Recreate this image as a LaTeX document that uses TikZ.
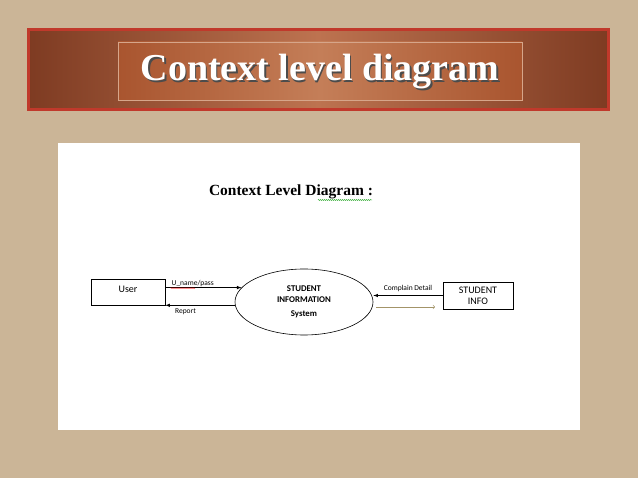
\documentclass[tikz,border=0pt]{standalone}
\usepackage{fontspec}
\setmainfont{Liberation Serif}
\newfontfamily\lblfont{Carlito}
\usepackage{xcolor}
\usetikzlibrary{arrows,shapes.geometric,decorations.pathmorphing}
\definecolor{paper}{HTML}{CBB597}
\definecolor{bannerred}{HTML}{C0392B}
\definecolor{bannerdark}{HTML}{7E3B22}
\definecolor{bannerlight}{HTML}{BD7350}
\definecolor{innerdark}{HTML}{A9552F}
\definecolor{innerlight}{HTML}{C47E58}
\definecolor{tanline}{HTML}{A39468}
\tikzset{
  every boxed node/.style={
    draw=black,fill=white,
  },
}

\begin{document}
\begin{tikzpicture}[x=1pt,y=-1pt]
		\tikzstyle{entitybox}=[every boxed node,semithick,font=\lblfont\fontsize{10}{11}\selectfont,align=center]
		\tikzstyle{flowlabel}=[font=\lblfont\fontsize{7.5}{8}\selectfont,inner sep=1pt]
		\tikzstyle{flow}=[draw,semithick,-latex]
		\useasboundingbox (0,0) rectangle (638,478);
		\fill[paper] (0,0) rectangle (638,478);

		% title banner
		\draw[bannerred,line width=3pt,left color=bannerdark,right color=bannerdark,middle color=bannerlight] (28,30) rectangle (608,110);
		\draw[innerlight!70!white,line width=0.4pt,left color=innerdark,right color=innerdark,middle color=innerlight] (118,42) rectangle (522,100);
		\node[text=black!70,font=\fontsize{38}{40}\selectfont\bfseries] (titleshadow) at (321.5,73.5) {Context level diagram};
		\node[text=white,font=\fontsize{38}{40}\selectfont\bfseries] (title) at (320,72) {Context level diagram};

		% white sheet
		\fill[white] (58,143) rectangle (580,430);
		\node[font=\fontsize{15.5}{17}\selectfont\bfseries] (heading) at (291,192) {Context Level Diagram :};
		\draw[green!60!black,decorate,decoration={snake,amplitude=0.5pt,segment length=2pt}] (318,200) -- (372,200);

		\node[entitybox,minimum width=74pt,minimum height=26pt] (user) at (128,292) {\raisebox{5pt}{User}};
		\node[entitybox,minimum width=70pt,minimum height=27pt] (info) at (478,295.5) {STUDENT\\INFO};
		\node[draw,semithick,ellipse,minimum width=138pt,minimum height=66pt,align=center,font=\lblfont\bfseries\fontsize{8.8}{11}\selectfont] (sys) at (304,302) {STUDENT\\INFORMATION\\[3pt]System};

		\draw[flow] (sys.167 -| user.east) -- (sys.167) node[flowlabel,pos=0.36,above] (login) {U\_name/pass};
		\draw[red,decorate,decoration={snake,amplitude=0.4pt,segment length=2pt}] ([yshift=-0.5pt]login.south west) -- ([xshift=-20pt,yshift=-0.5pt]login.south east);
		\draw[flow] (user.south east -| sys.west) -- (user.south east) node[flowlabel,pos=0.71,below=2pt] (report) {Report};
		\draw[flow] (info.west) -- (info.west -| sys.east) node[flowlabel,pos=0.5,above=2pt] (complain) {Complain Detail};

		\coordinate (tanend) at (435,307);
		\draw[tanline,semithick,->] ([xshift=3pt]sys.east |- tanend) -- (tanend);

	\end{tikzpicture}
\end{document}
